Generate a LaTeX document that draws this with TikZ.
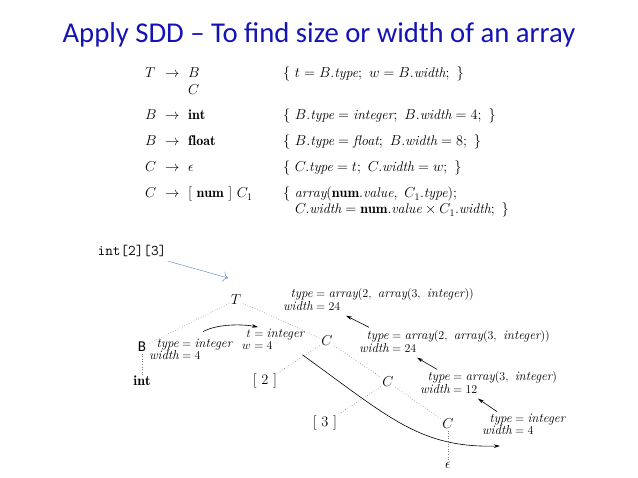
\documentclass[tikz,border=0pt]{standalone}
\usepackage{fontspec}
\usepackage{amsmath}
\usetikzlibrary{arrows.meta,calc}
\newfontfamily\slidefont{Carlito}
\definecolor{slideblue}{RGB}{20,20,180}
\definecolor{declblue}{RGB}{79,129,189}

\tikzset{
  gram/.style={anchor=base west, inner sep=0pt, font=\fontsize{14}{16}\selectfont},
  sym/.style={inner sep=1.5pt, font=\fontsize{14}{16}\selectfont},
  attr/.style={anchor=west, inner sep=0pt, font=\fontsize{13}{11.5}\selectfont},
  treeline/.style={dotted, gray, line width=0.6pt},
  up/.style={-{Stealth[length=6pt,width=3.5pt]}, line width=0.6pt}
}

\begin{document}
\begin{tikzpicture}[x=1pt,y=-1pt]
\useasboundingbox (0,0) rectangle (638,478);

\node[font=\slidefont\fontsize{28.7}{32}\selectfont, text=slideblue] (title) at (319,35) {Apply SDD – To find size or width of an array};

% translation scheme
\node[gram] (lhsT) at (145,78) {$T$};
\node[gram] (rhsB) at (188,78) {$B$};
\node[gram] (rhsC) at (188,95) {$C$};
\node[gram] (lhsBi) at (145,120) {$B$};
\node[gram] (rhsInt) at (188,120) {$\mathbf{int}$};
\node[gram] (lhsBf) at (145,146) {$B$};
\node[gram] (rhsFloat) at (188,146) {$\mathbf{float}$};
\node[gram] (lhsCe) at (145,172) {$C$};
\node[gram] (rhsEps) at (188,172) {$\epsilon$};
\node[gram] (lhsCn) at (145,198) {$C$};
\node[gram] (rhsNum) at (188,198) {$[\ \mathbf{num}\ ]\ C_1$};
\foreach \y in {78,120,146,172,198}
    \node[gram] (to\y) at (165,\y) {$\rightarrow$};

\node[gram] (actT) at (283,78) {$\{\ t = B.\textit{type};\ w = B.\textit{width};\ \}$};
\node[gram] (actInt) at (283,120) {$\{\ B.\textit{type} = \textit{integer};\ B.\textit{width} = 4;\ \}$};
\node[gram] (actFloat) at (283,146) {$\{\ B.\textit{type} = \textit{float};\ B.\textit{width} = 8;\ \}$};
\node[gram] (actEps) at (283,172) {$\{\ C.\textit{type} = t;\ C.\textit{width} = w;\ \}$};
\node[gram] (actNum) at (283,198) {$\{\ \textit{array}(\mathbf{num}.\textit{value},\ C_1.\textit{type});$};
\node[gram] (actNumb) at (295,214) {$C.\textit{width} = \mathbf{num}.\textit{value} \times C_1.\textit{width};\ \}$};

% annotated parse tree
\node[font=\ttfamily\fontsize{14.8}{16}\selectfont] (decl) at (132,251) {int[2][3]};
\coordinate (aim) at (228,278);
\draw[declblue, -{To[length=5pt]}, shorten <=3pt] (decl) -- (aim);

\node[sym] (T) at (236,300) {$T$};
\node[sym, font=\slidefont\fontsize{15}{16}\selectfont] (B) at (142,347) {B};
\node[sym] (int) at (142,381) {$\mathbf{int}$};
\node[sym] (C1) at (327,341) {$C$};
\node[sym] (two) at (265,381) {$[\ 2\ ]$};
\node[sym] (C2) at (388,382) {$C$};
\node[sym] (three) at (325,423) {$[\ 3\ ]$};
\node[sym] (C3) at (448,424) {$C$};
\node[sym] (eps) at (448,465) {$\epsilon$};

\draw[treeline] (T) -- (B);
\draw[treeline] (B) -- (int);
\draw[treeline] (T) -- (C1);
\draw[treeline] (C1) -- (two);
\draw[treeline] (C1) -- (C2);
\draw[treeline] (C2) -- (three);
\draw[treeline] (C2) -- (C3);
\draw[treeline] (C3) -- (eps);

\node[attr] (attT) at (283,301) {$\begin{array}{@{}r@{}l@{}} \textit{type} &{}= \textit{array}(2,\ \textit{array}(3,\ \textit{integer}))\\ \textit{width} &{}= 24 \end{array}$};
\node[attr] (attB) at (149,351) {$\begin{array}{@{}r@{}l@{}} \textit{type} &{}= \textit{integer}\\ \textit{width} &{}= 4 \end{array}$};
\node[attr] (attTW) at (242,341) {$\begin{array}{@{}r@{}l@{}} t &{}= \textit{integer}\\ w &{}= 4 \end{array}$};
\node[attr] (attCa) at (359,343) {$\begin{array}{@{}r@{}l@{}} \textit{type} &{}= \textit{array}(2,\ \textit{array}(3,\ \textit{integer}))\\ \textit{width} &{}= 24 \end{array}$};
\node[attr] (attCb) at (420,384) {$\begin{array}{@{}r@{}l@{}} \textit{type} &{}= \textit{array}(3,\ \textit{integer})\\ \textit{width} &{}= 12 \end{array}$};
\node[attr] (attCc) at (482,426) {$\begin{array}{@{}r@{}l@{}} \textit{type} &{}= \textit{integer}\\ \textit{width} &{}= 4 \end{array}$};

% inherited t, w passed across and down
\draw[up] ([shift={(54,-7)}]attB.north west) .. controls +(15,-8) and +(-15,-3) .. ([shift={(16,-2)}]attTW.north west);
\draw[up] ([shift={(-2,2)}]attTW.south east) .. controls (390,418) and (420,448) .. ([shift={(52,-19)}]eps.center);
% synthesized type, width passed up
\draw[up] ([shift={(10,-3)}]attCa.north west) -- ([shift={(63,2)}]attT.south west);
\draw[up] ([shift={(17,-2)}]attCb.north west) -- ([shift={(58,2)}]attCa.south west);
\draw[up] ([shift={(15,-2)}]attCc.north west) -- ([shift={(58,2)}]attCb.south west);
\end{tikzpicture}
\end{document}
